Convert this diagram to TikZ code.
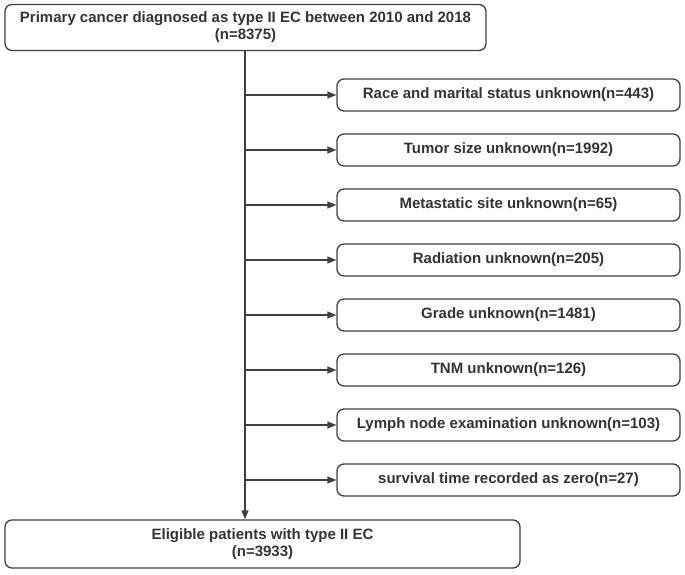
\documentclass[tikz,border=0pt]{standalone}
\usepackage{fontspec}
\setmainfont{Liberation Sans}
\usetikzlibrary{arrows.meta}
\begin{document}
\begin{tikzpicture}[x=1pt,y=-1pt,
  box/.style={draw=black!75,line width=1.3pt,rounded corners=7pt,align=center,font=\bfseries\fontsize{15}{17}\selectfont,text=black!80,inner sep=0pt},
  side/.style={box,minimum width=343pt,minimum height=32pt},
  arr/.style={draw=black!75,line width=1.3pt,-{Triangle[length=9pt,width=7pt]}}]
\useasboundingbox (0,0) rectangle (685,575);
\node[box,minimum width=481pt,minimum height=46pt] (top) at (245.5,27.5) {Primary cancer diagnosed as type II EC between 2010 and 2018\\(n=8375)};
\node[box,minimum width=515pt,minimum height=48pt] (bot) at (262.5,544) {Eligible patients with type II EC\\(n=3933)};
\node[side] (s1) at (508.5,95) {Race and marital status unknown(n=443)};
\node[side] (s2) at (508.5,150) {Tumor size unknown(n=1992)};
\node[side] (s3) at (508.5,205) {Metastatic site unknown(n=65)};
\node[side] (s4) at (508.5,260) {Radiation unknown(n=205)};
\node[side] (s5) at (508.5,315) {Grade unknown(n=1481)};
\node[side] (s6) at (508.5,370) {TNM unknown(n=126)};
\node[side] (s7) at (508.5,425) {Lymph node examination unknown(n=103)};
\node[side] (s8) at (508.5,480) {survival time recorded as zero(n=27)};
\draw[arr] (top.south -| 245,0) -- (bot.north -| 245,0);
\foreach \i in {1,...,8} {\draw[arr] (245,0 |- s\i.west) -- (s\i.west);}
\end{tikzpicture}
\end{document}
